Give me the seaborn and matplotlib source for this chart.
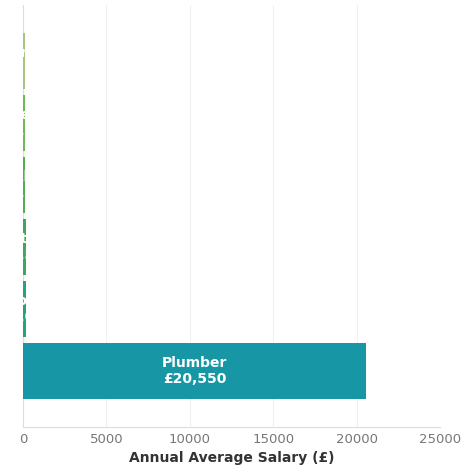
import pandas as pd
import seaborn as sns
import matplotlib.pyplot as plt

# values (the small bars are only a couple of pixels wide)
trades = ['Electrician', 'Carpenter', 'Bricklayer', 'Plasterer', 'Roofer', 'Plumber']
salaries = [110, 130, 140, 150, 165, 20550]
bar_colours = ['#a9c47f', '#6dbb52', '#4fb050', '#3ca85e', '#22a47c', '#1797a6']

df = pd.DataFrame({'Trade': trades, 'Salary': salaries})

sns.set_theme(style='whitegrid')
plt.rcParams['font.family'] = ['DejaVu Sans']

fig = plt.figure(figsize=(4.74, 4.74), dpi=100)
ax = fig.add_axes([23 / 474, 47 / 474, 417 / 474, 422 / 474])

sns.barplot(data=df, y='Trade', x='Salary', hue='Trade', palette=bar_colours,
            legend=False, width=0.9, saturation=1, linewidth=0, ax=ax)
# bars sit on top of the left spine like in the original
for p in ax.patches:
    p.set_zorder(3)

for i, (name, val) in enumerate(zip(trades, salaries)):
    ax.text(val / 2, i, f'{name}\n£{val:,}', ha='center', va='center',
            color='white', fontsize=10, fontweight='bold', zorder=4)

ax.set_xlim(0, 25000)
ax.set_ylim(len(trades) - 1 + 0.9, -0.9)
ax.set_xticks([0, 5000, 10000, 15000, 20000, 25000])
ax.set_yticks([])
ax.set_ylabel('')
ax.set_xlabel('Annual Average Salary (£)', fontsize=10, fontweight='bold', color='#333333')
ax.tick_params(axis='x', colors='#777777', labelsize=9.5, length=0, pad=4)
ax.grid(axis='x', color='#f0f0f0', linewidth=0.8)
ax.grid(axis='y', visible=False)
for side in ['top', 'right']:
    ax.spines[side].set_visible(False)
for side in ['left', 'bottom']:
    ax.spines[side].set_color('#dddddd')
    ax.spines[side].set_linewidth(0.8)

fig.savefig('out.png', dpi=100)
